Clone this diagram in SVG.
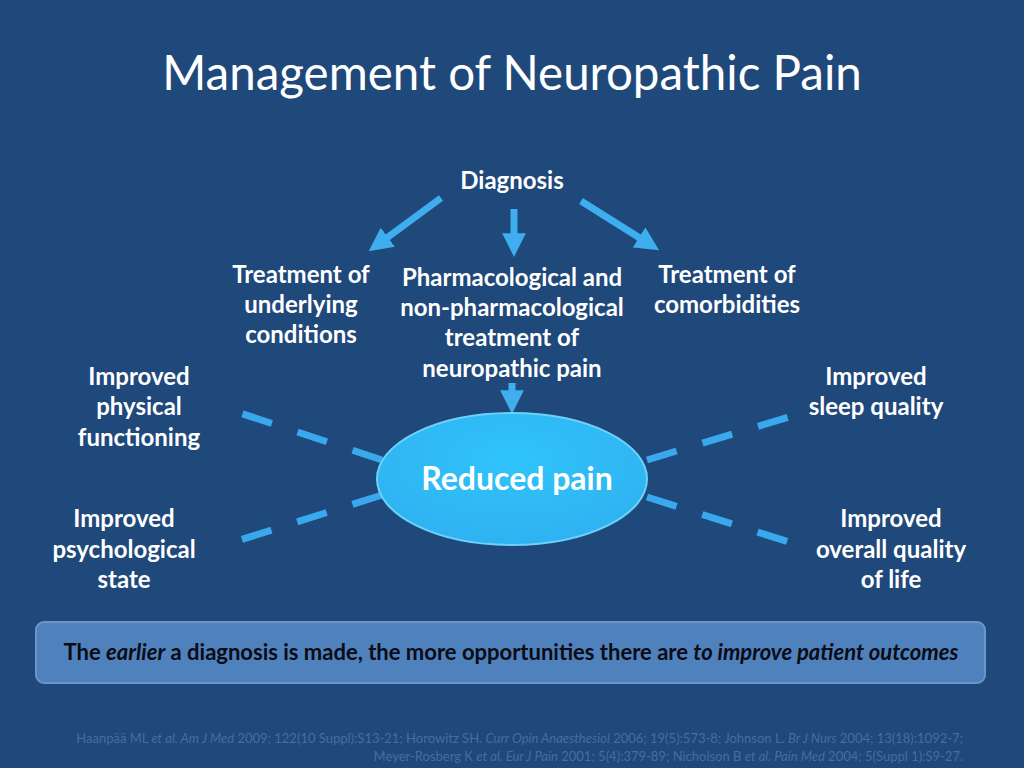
<svg xmlns="http://www.w3.org/2000/svg" width="1024" height="768" viewBox="0 0 1024 768">
<defs>
<style>
.t{font-family:Lato,"Open Sans",sans-serif;fill:#fff;font-weight:bold;font-size:24px;text-anchor:middle}
.big{font-size:32px}
.title{font-family:Lato,"Open Sans",sans-serif;fill:#fff;font-size:47.5px;text-anchor:middle}
.dash{stroke:#3aa8ec;stroke-width:7;fill:none;stroke-dasharray:31 27}
.arr{stroke:#3eaeef;stroke-width:7;fill:none}
.ref{font-family:Lato,"Open Sans",sans-serif;fill:#4a6c9e;font-size:13px;text-anchor:end}
</style>
<radialGradient id="eg" cx="0.5" cy="0.35" r="0.7">
<stop offset="0" stop-color="#30c4fb"/>
<stop offset="1" stop-color="#2fb0f0"/>
</radialGradient>
<marker id="ah" viewBox="0 0 10 10" refX="2" refY="5" markerWidth="3.4" markerHeight="3.4" orient="auto" markerUnits="strokeWidth">
<path d="M0,0 L10,5 L0,10 z" fill="#3eaeef"/>
</marker>
</defs>
<rect width="1024" height="768" fill="#1f487b"/>
<text class="title" x="512" y="90">Management of Neuropathic Pain</text>

<g id="connectors">
<line class="arr" x1="441" y1="198" x2="384" y2="240" marker-end="url(#ah)"/>
<line class="arr" x1="514" y1="209" x2="514" y2="238" marker-end="url(#ah)"/>
<line class="arr" x1="581" y1="201" x2="643" y2="240" marker-end="url(#ah)"/>
<line class="arr" x1="512" y1="383" x2="512" y2="395" stroke-width="6" marker-end="url(#ah)"/>
<line class="dash" x1="382" y1="460" x2="237" y2="412"/>
<line class="dash" x1="382" y1="495" x2="237" y2="541"/>
<line class="dash" x1="647" y1="460" x2="792" y2="416"/>
<line class="dash" x1="647" y1="497" x2="792" y2="543"/>
</g>

<g id="diagnosis"><text class="t" x="512" y="189">Diagnosis</text></g>
<g id="underlying"><text class="t" x="301" y="283">Treatment of</text><text class="t" x="301" y="313">underlying</text><text class="t" x="301" y="343">conditions</text></g>
<g id="pharm"><text class="t" x="512" y="286">Pharmacological and</text><text class="t" x="512" y="316">non-pharmacological</text><text class="t" x="512" y="346">treatment of</text><text class="t" x="512" y="377">neuropathic pain</text></g>
<g id="comorb"><text class="t" x="727" y="283">Treatment of</text><text class="t" x="727" y="313">comorbidities</text></g>
<g id="physical"><text class="t" x="139" y="385">Improved</text><text class="t" x="139" y="415">physical</text><text class="t" x="139" y="446">functioning</text></g>
<g id="psych"><text class="t" x="124" y="527">Improved</text><text class="t" x="124" y="558">psychological</text><text class="t" x="124" y="588">state</text></g>
<g id="sleep"><text class="t" x="876" y="385">Improved</text><text class="t" x="876" y="415">sleep quality</text></g>
<g id="qol"><text class="t" x="891" y="527">Improved</text><text class="t" x="891" y="558">overall quality</text><text class="t" x="891" y="588">of life</text></g>

<g id="reduced">
<ellipse cx="512" cy="479" rx="135" ry="66" fill="url(#eg)" stroke="#6cd2fb" stroke-width="2"/>
<text class="t big" x="517" y="490">Reduced pain</text>
</g>

<g id="note">
<rect x="36" y="622" width="949" height="61" rx="8" fill="#4f81bd" stroke="#6b95c8" stroke-width="2"/>
<text x="511" y="660" font-family="Lato,'Open Sans',sans-serif" font-size="22" font-weight="bold" fill="#0b0b14" text-anchor="middle">The <tspan font-style="italic">earlier</tspan> a diagnosis is made, the more opportunities there are <tspan font-style="italic">to improve patient outcomes</tspan></text>
</g>

<text class="ref" x="963" y="743">Haanpää ML <tspan font-style="italic">et al. Am J Med</tspan> 2009; 122(10 Suppl):S13-21; Horowitz SH. <tspan font-style="italic">Curr Opin Anaesthesiol</tspan> 2006; 19(5):573-8; Johnson L. <tspan font-style="italic">Br J Nurs</tspan> 2004; 13(18):1092-7;</text>
<text class="ref" x="963" y="761">Meyer-Rosberg K <tspan font-style="italic">et al. Eur J Pain</tspan> 2001; 5(4):379-89; Nicholson B <tspan font-style="italic">et al. Pain Med</tspan> 2004; 5(Suppl 1):S9-27.</text>
</svg>
